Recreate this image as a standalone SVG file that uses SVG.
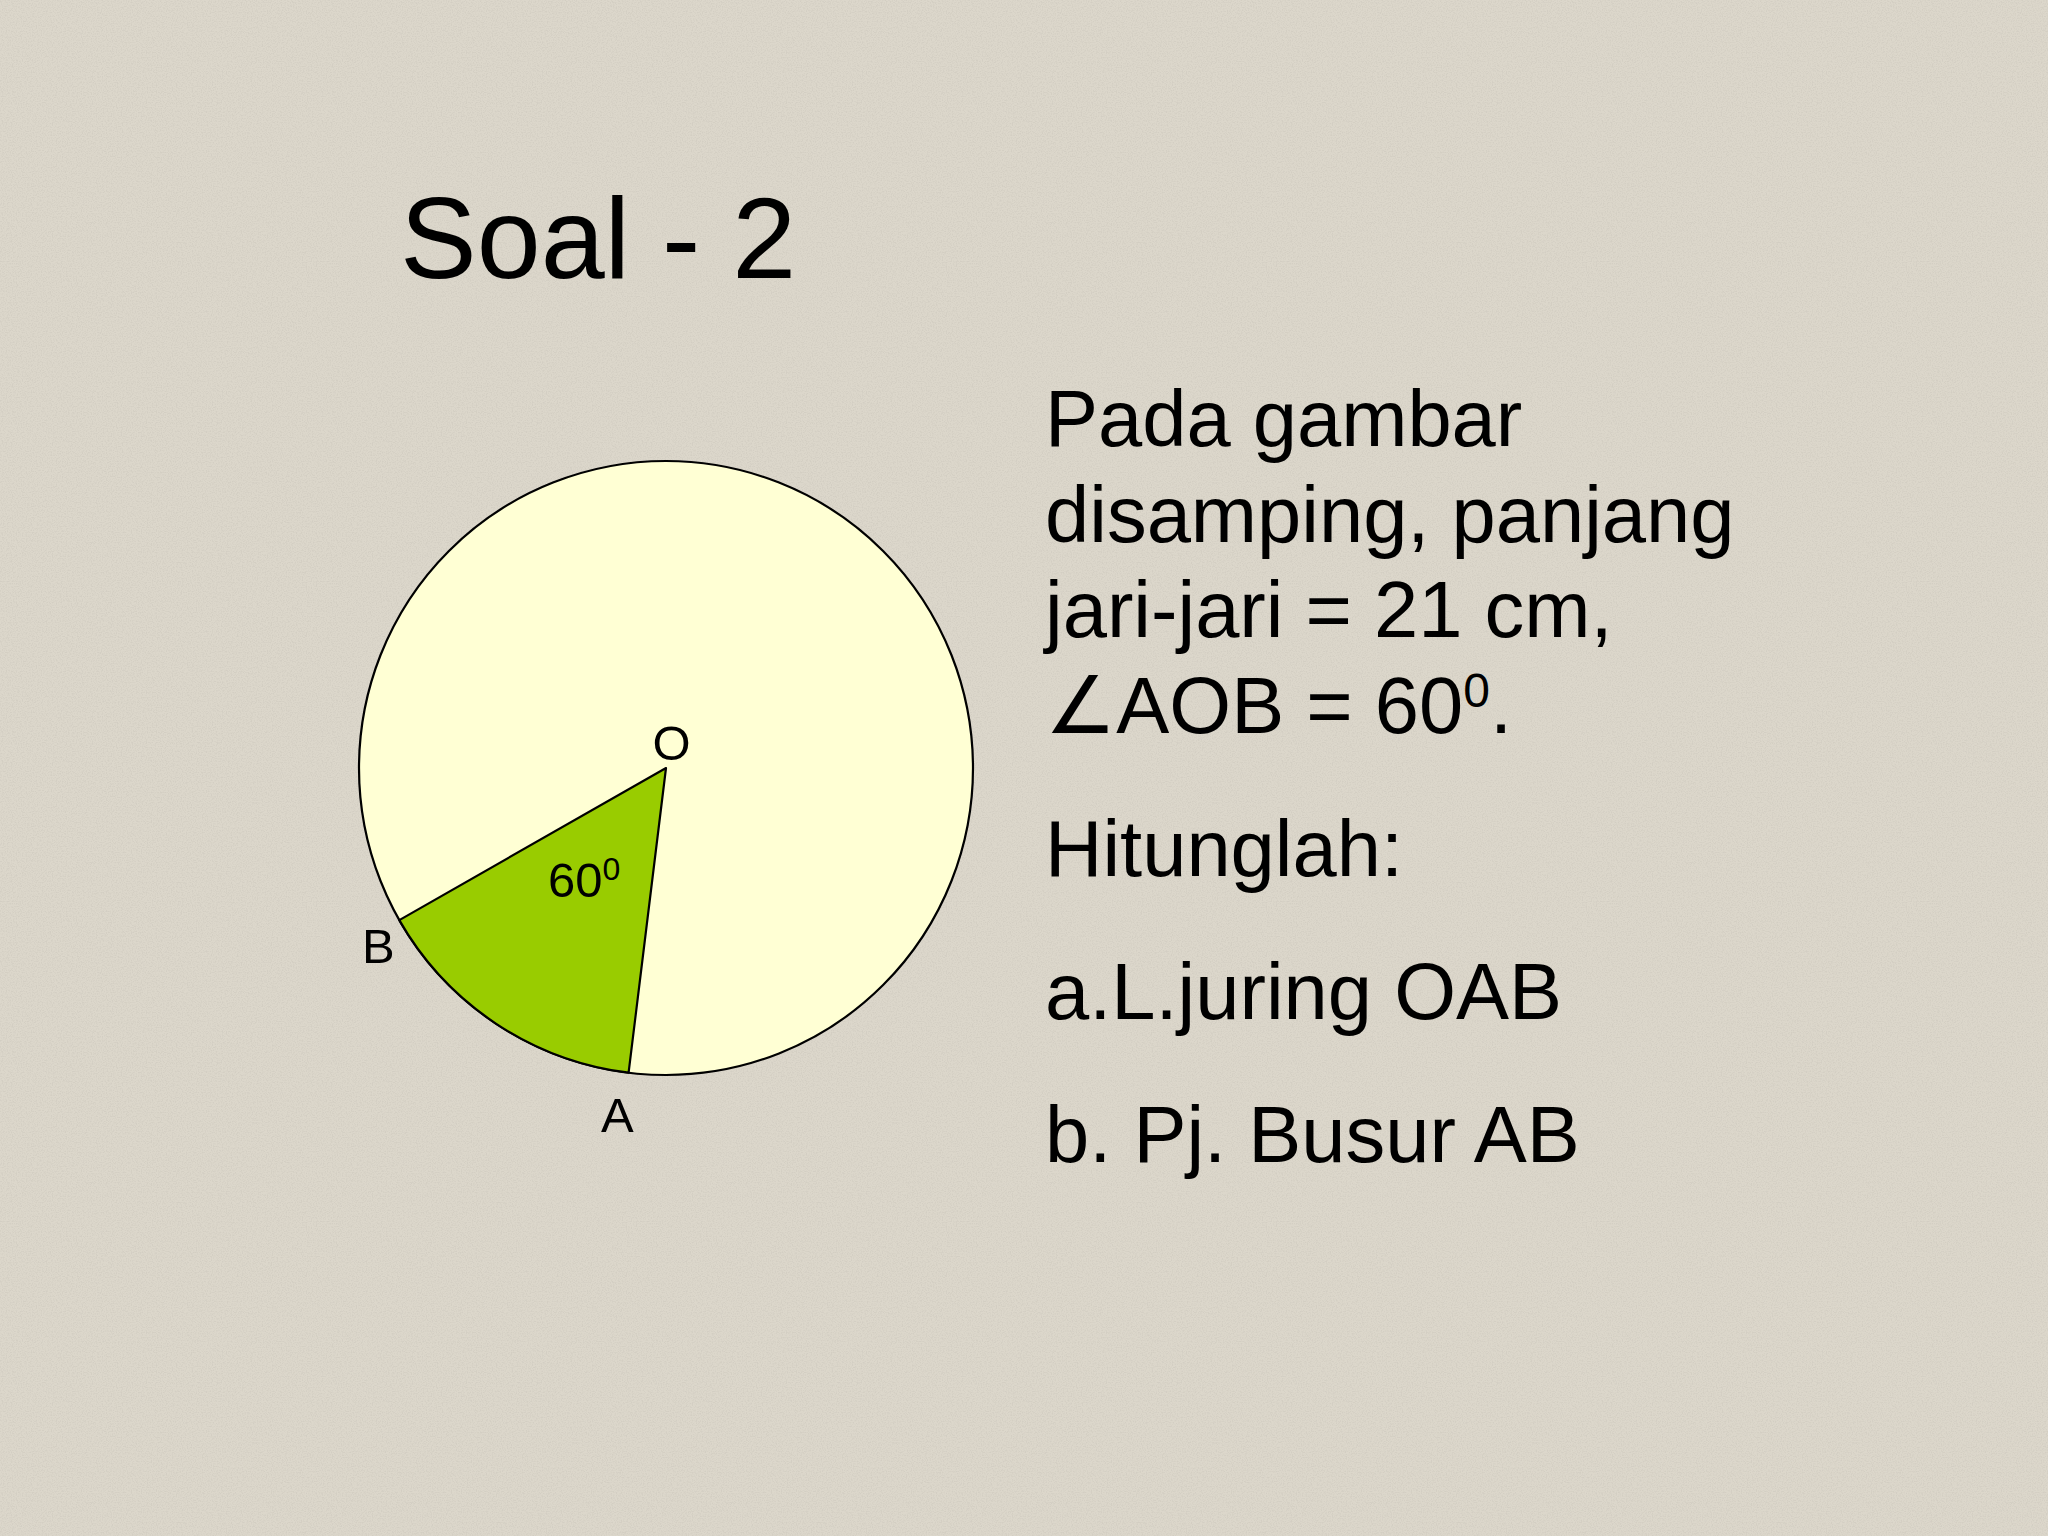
<svg xmlns="http://www.w3.org/2000/svg" width="2048" height="1536" viewBox="0 0 2048 1536">
  <defs>
    <filter id="tex" x="0" y="0" width="100%" height="100%">
      <feTurbulence type="fractalNoise" baseFrequency="0.8" numOctaves="2" seed="7" result="n"/>
      <feColorMatrix in="n" type="matrix" values="0 0 0 0 0.55  0 0 0 0 0.52  0 0 0 0 0.46  0 0 0 -3 1.75"/>
    </filter>
  </defs>
  <style>
    text { font-family: "Liberation Sans", Arial, "DejaVu Sans", sans-serif; fill: #000; }
    .title { font-size: 115px; }
    .body { font-size: 79.5px; }
    .lbl { font-size: 49px; }
    .fig { stroke: #000; stroke-width: 2.2; stroke-linejoin: round; }
  </style>
  <rect id="background" x="0" y="0" width="2048" height="1536" fill="#DCD7CB"/>
  <rect x="0" y="0" width="2048" height="1536" filter="url(#tex)" opacity="0.35"/>

  <g id="title">
    <text class="title" x="400" y="278">Soal - 2</text>
  </g>

  <g id="circle-figure">
    <circle id="circle" class="fig" cx="666" cy="768" r="307" fill="#FFFFD4"/>
    <path id="sector-AOB" class="fig" d="M 666 768 L 399.3 920.1 A 307 307 0 0 0 628.6 1072.7 Z" fill="#99CC00"/>
  </g>

  <g id="labels">
    <text id="label-O" class="lbl" x="671.5" y="760" text-anchor="middle">O</text>
    <text id="label-B" class="lbl" x="362" y="963">B</text>
    <text id="label-A" class="lbl" x="601" y="1132">A</text>
    <text id="label-angle" class="lbl" x="548" y="897">60<tspan font-size="32" dy="-17">0</tspan></text>
  </g>

  <g id="problem-text">
    <text class="body" x="1045" y="446">Pada gambar</text>
    <text class="body" x="1045" y="541.5">disamping, panjang</text>
    <text class="body" x="1045" y="637">jari-jari = 21 cm,</text>
    <text class="body" x="1045" y="732.5">∠AOB = 60<tspan font-size="48" dy="-26">0</tspan><tspan dy="26">.</tspan></text>
    <text class="body" x="1045" y="876">Hitunglah:</text>
    <text class="body" x="1045" y="1019">a.L.juring OAB</text>
    <text class="body" x="1045" y="1162">b. Pj. Busur AB</text>
  </g>
</svg>
